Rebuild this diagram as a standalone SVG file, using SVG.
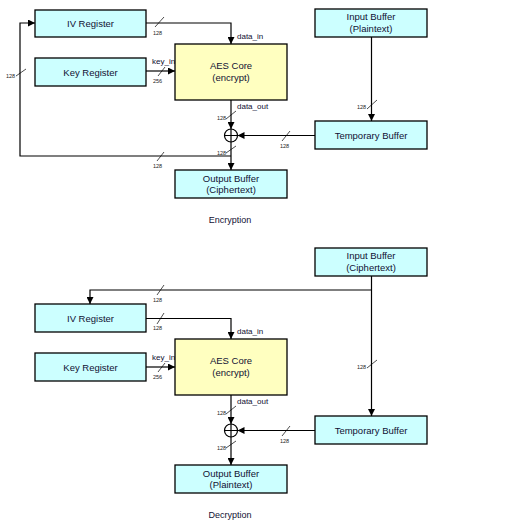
<svg xmlns="http://www.w3.org/2000/svg" width="530" height="530" viewBox="0 0 530 530">
<defs>
<marker id="ah" viewBox="0 0 10 10" refX="10" refY="5" markerWidth="7" markerHeight="7" markerUnits="userSpaceOnUse" orient="auto">
<path d="M0,0 L10,5 L0,10 z" fill="#000"/>
</marker>
<style>
.box{fill:#ccffff;stroke:#000;stroke-width:1.3}
.core{fill:#ffffc0;stroke:#000;stroke-width:1.3}
.t{font-family:"Liberation Sans",Arial,sans-serif;font-size:9.5px;fill:#111133;text-anchor:middle}
.lbl{font-family:"Liberation Sans",Arial,sans-serif;font-size:8px;fill:#111133}
.n{font-family:"Liberation Sans",Arial,sans-serif;font-size:5.5px;fill:#222}
.w{fill:none;stroke:#000;stroke-width:1.2}
.s{fill:none;stroke:#000;stroke-width:0.7}
.a{marker-end:url(#ah)}
</style>
</defs>
<rect width="530" height="530" fill="#fff"/>

<!-- ===== Encryption ===== -->
<g id="enc-connectors">
<path class="w a" d="M146,23 H231 V44"/>
<path class="w a" d="M146,71 H175"/>
<path class="w a" d="M231,100 V129"/>
<path class="w a" d="M231,142 V170"/>
<path class="w a" d="M315,135.5 H237.5"/>
<path class="w a" d="M371.5,37 V121"/>
<path class="w a" d="M231,156 H20 V23 H35"/>
<circle cx="231" cy="135.5" r="6.5" class="w"/>
<path class="w" d="M224.5,135.5 H237.5 M231,129 V142"/>
<line class="s" x1="155" y1="27" x2="164" y2="17"/>
<line class="s" x1="158" y1="76" x2="165" y2="67"/>
<line class="s" x1="226" y1="119" x2="236" y2="111"/>
<line class="s" x1="226" y1="153" x2="236" y2="146"/>
<line class="s" x1="282" y1="141" x2="290" y2="131"/>
<line class="s" x1="367" y1="109" x2="377" y2="100"/>
<line class="s" x1="157" y1="161" x2="164" y2="152"/>
<line class="s" x1="16" y1="76" x2="26" y2="69"/>
<text class="n" x="153" y="35">128</text>
<text class="n" x="153" y="83">256</text>
<text class="n" x="217" y="120">128</text>
<text class="n" x="217" y="155">128</text>
<text class="n" x="280" y="148">128</text>
<text class="n" x="357" y="109">128</text>
<text class="n" x="153" y="168">128</text>
<text class="n" x="6" y="78">128</text>
<text class="lbl" x="237" y="39">data_in</text>
<text class="lbl" x="152" y="64">key_in</text>
<text class="lbl" x="237" y="109">data_out</text>
</g>
<g id="enc-iv"><rect class="box" x="35" y="10" width="111" height="27"/><text class="t" x="90.5" y="27">IV Register</text></g>
<g id="enc-key"><rect class="box" x="35" y="58" width="111" height="28"/><text class="t" x="90.5" y="75.5">Key Register</text></g>
<g id="enc-aes"><rect class="core" x="175" y="44" width="112" height="56"/><text class="t" x="231" y="69">AES Core</text><text class="t" x="231" y="81">(encrypt)</text></g>
<g id="enc-input"><rect class="box" x="315" y="9" width="112" height="28"/><text class="t" x="371" y="20">Input Buffer</text><text class="t" x="371" y="31.5">(Plaintext)</text></g>
<g id="enc-temp"><rect class="box" x="315" y="121" width="112" height="28"/><text class="t" x="371" y="138.5">Temporary Buffer</text></g>
<g id="enc-out"><rect class="box" x="175" y="170" width="112" height="28"/><text class="t" x="231" y="181.5">Output Buffer</text><text class="t" x="231" y="193">(Ciphertext)</text></g>
<text class="t" x="230" y="223" style="font-size:9px">Encryption</text>

<!-- ===== Decryption ===== -->
<g id="dec-connectors">
<path class="w a" d="M371.5,276 V416"/>
<path class="w a" d="M371.5,290 H90 V304"/>
<path class="w a" d="M146,318.5 H231 V339"/>
<path class="w a" d="M146,367 H175"/>
<path class="w a" d="M231,395 V424"/>
<path class="w a" d="M231,437 V465"/>
<path class="w a" d="M315,430.5 H237.5"/>
<circle cx="231" cy="430.5" r="6.5" class="w"/>
<path class="w" d="M224.5,430.5 H237.5 M231,424 V437"/>
<line class="s" x1="157" y1="295" x2="164" y2="285"/>
<line class="s" x1="157" y1="324" x2="164" y2="313"/>
<line class="s" x1="158" y1="372" x2="165" y2="363"/>
<line class="s" x1="226" y1="414" x2="236" y2="406"/>
<line class="s" x1="226" y1="448" x2="236" y2="441"/>
<line class="s" x1="282" y1="436" x2="290" y2="426"/>
<line class="s" x1="367" y1="368" x2="377" y2="360"/>
<text class="n" x="153" y="302">128</text>
<text class="n" x="153" y="330">128</text>
<text class="n" x="153" y="379">256</text>
<text class="n" x="217" y="415">128</text>
<text class="n" x="217" y="450">128</text>
<text class="n" x="280" y="443">128</text>
<text class="n" x="357" y="369">128</text>
<text class="lbl" x="237" y="334">data_in</text>
<text class="lbl" x="152" y="360">key_in</text>
<text class="lbl" x="237" y="404">data_out</text>
</g>
<g id="dec-input"><rect class="box" x="315" y="248" width="112" height="28"/><text class="t" x="371" y="259">Input Buffer</text><text class="t" x="371" y="270.5">(Ciphertext)</text></g>
<g id="dec-iv"><rect class="box" x="35" y="304" width="111" height="28"/><text class="t" x="90.5" y="321.5">IV Register</text></g>
<g id="dec-key"><rect class="box" x="35" y="353" width="111" height="28"/><text class="t" x="90.5" y="370.5">Key Register</text></g>
<g id="dec-aes"><rect class="core" x="175" y="339" width="112" height="56"/><text class="t" x="231" y="364">AES Core</text><text class="t" x="231" y="376">(encrypt)</text></g>
<g id="dec-temp"><rect class="box" x="315" y="416" width="112" height="28"/><text class="t" x="371" y="433.5">Temporary Buffer</text></g>
<g id="dec-out"><rect class="box" x="175" y="465" width="112" height="28"/><text class="t" x="231" y="476.5">Output Buffer</text><text class="t" x="231" y="488">(Plaintext)</text></g>
<text class="t" x="230" y="518" style="font-size:9px">Decryption</text>
</svg>
